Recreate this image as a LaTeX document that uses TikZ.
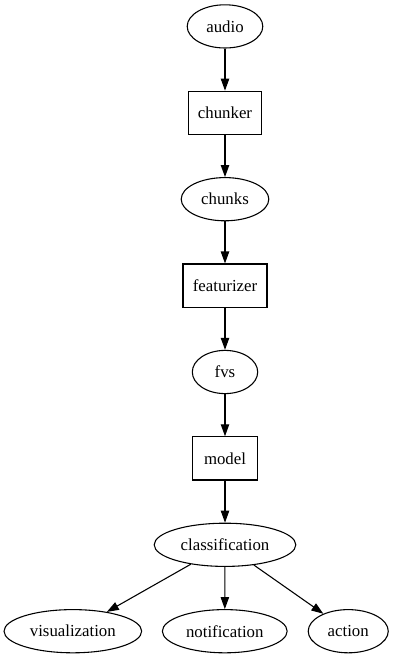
\documentclass[tikz,border=0pt]{standalone}
\usepackage{fontspec}
\setmainfont{Liberation Serif}
\usetikzlibrary{arrows.meta,shapes.geometric}
\begin{document}
\begin{tikzpicture}[x=1pt,y=1pt,
  base/.style={draw,inner sep=0pt,line width=0.9pt,minimum height=36pt,font=\fontsize{14}{16}\selectfont},
  ell/.style={base,ellipse},
  boxn/.style={base,rectangle},
  edge/.style={-{Triangle[length=10pt,width=7pt]},line width=0.9pt}]
\useasboundingbox (0,0) rectangle (336.67,-548.33);
\node[ell,minimum width=63pt]  (audio)   at (187.5,-22)  {audio};
\node[boxn,minimum width=61pt] (chunker) at (187.5,-94)  {chunker};
\node[ell,minimum width=73pt]  (chunks)  at (187.5,-166) {chunks};
\node[boxn,minimum width=70pt] (feat)    at (187.5,-238) {featurizer};
\node[ell,minimum width=54.5pt] (fvs)    at (187.5,-310) {fvs};
\node[boxn,minimum width=54pt] (model)   at (187.5,-382) {model};
\node[ell,minimum width=118pt] (class)   at (187.5,-454) {classification};
\node[ell,minimum width=114.7pt] (vis)   at (60.7,-526)  {visualization};
\node[ell,minimum width=104pt] (notif)   at (187.3,-526) {notification};
\node[ell,minimum width=66.7pt] (action) at (290.2,-526) {action};
\draw[edge] (audio) -- (chunker);
\draw[edge] (chunker) -- (chunks);
\draw[edge] (chunks) -- (feat);
\draw[edge] (feat) -- (fvs);
\draw[edge] (fvs) -- (model);
\draw[edge] (model) -- (class);
\draw[edge] (class) -- (vis);
\draw[edge] (class) -- (notif);
\draw[edge] (class) -- (action);
\end{tikzpicture}
\end{document}
